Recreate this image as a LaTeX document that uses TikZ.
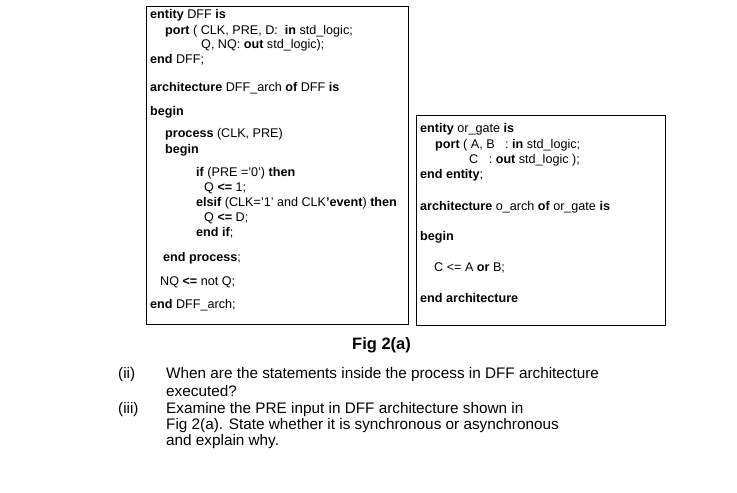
\documentclass[tikz,border=0pt]{standalone}
\usepackage{fontspec}
\setmainfont{Liberation Sans}
\begin{document}
\begin{tikzpicture}[x=1pt,y=-1pt,
  code/.style={anchor=west,inner sep=0pt,font=\fontsize{12.6}{14}\selectfont},
  q/.style={anchor=west,inner sep=0pt,font=\fontsize{15.3}{17}\selectfont},
  box/.style={draw,line width=0.8pt}]
\useasboundingbox (0,0) rectangle (737,493);
\draw[box] (146,6) rectangle (408,324);
\draw[box] (416,115) rectangle (665,325);
\node[code] (l1) at (150,15) {\textbf{entity} DFF \textbf{is}};
\node[code] (l2) at (165,31) {\textbf{port} ( CLK, PRE, D:\ \ \textbf{in} std\_logic;};
\node[code] (l3) at (201,45) {Q, NQ: \textbf{out} std\_logic);};
\node[code] (l4) at (150,60) {\textbf{end} DFF;};
\node[code] (l5) at (150,88) {\textbf{architecture} DFF\_arch \textbf{of} DFF \textbf{is}};
\node[code] (l6) at (150,112) {\textbf{begin}};
\node[code] (l7) at (165,134) {\textbf{process} (CLK, PRE)};
\node[code] (l8) at (165,150) {\textbf{begin}};
\node[code] (l9) at (196,173) {\textbf{if} (PRE ='0') \textbf{then}};
\node[code] (l10) at (204,188) {Q \textbf{<=} 1;};
\node[code] (l11) at (196,203) {\textbf{elsif} (CLK='1' and CLK\textbf{'event}) \textbf{then}};
\node[code] (l12) at (204,218) {Q \textbf{<=} D;};
\node[code] (l13) at (196,233) {\textbf{end if};};
\node[code] (l14) at (163,258) {\textbf{end process};};
\node[code] (l15) at (160,282) {NQ \textbf{<=} not Q;};
\node[code] (l16) at (150,305) {\textbf{end} DFF\_arch;};
\node[code] (r1) at (420,129) {\textbf{entity} or\_gate \textbf{is}};
\node[code] (r2) at (435,145) {\textbf{port} ( A, B\ \ \ : \textbf{in} std\_logic;};
\node[code] (r3) at (469,160) {C\ \ \ : \textbf{out}\ std\_logic );};
\node[code] (r4) at (420,175) {\textbf{end entity};};
\node[code] (r5) at (420,207) {\textbf{architecture} o\_arch \textbf{of} or\_gate \textbf{is}};
\node[code] (r6) at (420,237) {\textbf{begin}};
\node[code] (r7) at (434,268) {C <= A \textbf{or} B;};
\node[code] (r8) at (420,298) {\textbf{end architecture}};
\node[anchor=west,inner sep=0pt,font=\fontsize{16.5}{18}\selectfont\bfseries] (fig) at (352,345) {Fig 2(a)};
\node[q] (n2) at (118,375) {(ii)};
\node[q] (t1) at (166,375) {When are the statements inside the process in DFF architecture};
\node[q] (t2) at (166,391) {executed?};
\node[q] (n3) at (118,410) {(iii)};
\node[q] (t3) at (166,410) {Examine the PRE input in DFF architecture shown in};
\node[q] (t4) at (166,426) {Fig 2(a). State whether it is synchronous or asynchronous};
\node[q] (t5) at (166,442) {and explain why.};
\end{tikzpicture}
\end{document}
